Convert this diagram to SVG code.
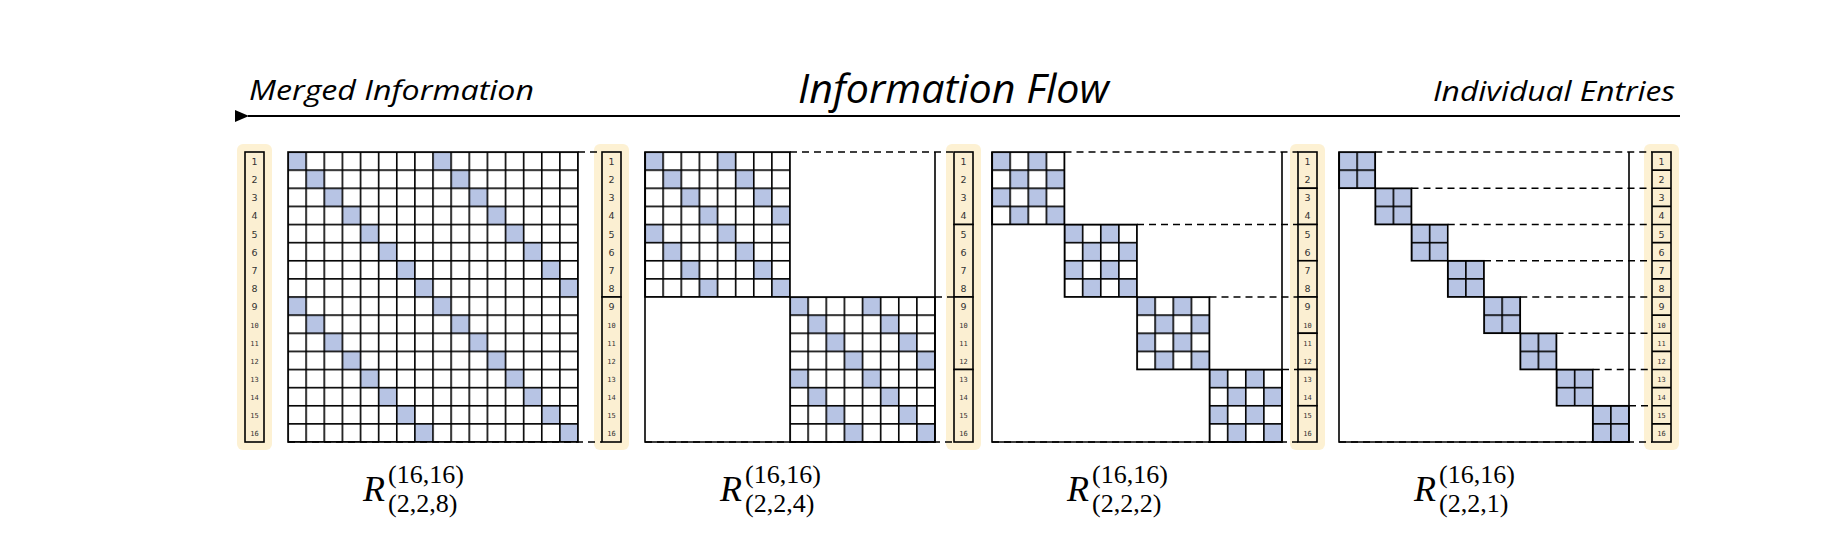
<svg xmlns="http://www.w3.org/2000/svg" xmlns:xlink="http://www.w3.org/1999/xlink" width="1830" height="540" viewBox="0 0 1830 540">
<style>
.hd{font-family:"Open Sans","Liberation Sans",sans-serif;font-style:italic;fill:#000}
.frame{fill:none;stroke:#000;stroke-width:1.6}
.dash{fill:none;stroke:#000;stroke-width:1.6;stroke-dasharray:7 5}
.blk{fill:url(#grid);stroke:#000;stroke-width:1.6}
.blue{fill:#b7c4e4}
.ybg{fill:#fdf1d3}
.ibox{fill:#fbefd2;stroke:#000;stroke-width:1.6}
.num{font-family:"DejaVu Sans",sans-serif;font-size:9.5px;fill:#333;text-anchor:middle}
.nums{font-family:"DejaVu Sans Mono",monospace;font-size:7px;fill:#333;text-anchor:middle}
.lbl{font-family:"Liberation Serif","DejaVu Serif",serif;fill:#000}
</style>
<defs>
<pattern id="grid" patternUnits="userSpaceOnUse" x="-0.8" y="-0.8" width="18.125" height="18.125">
<rect x="0" y="0" width="1.6" height="18.125" fill="#000"/>
<rect x="0" y="0" width="18.125" height="1.6" fill="#000"/>
</pattern>
<marker id="ah" markerWidth="14" markerHeight="12" refX="1" refY="6" orient="auto" markerUnits="userSpaceOnUse">
<path d="M14 0L0 6L14 12z" fill="#000"/>
</marker>
<g id="d2"><rect class="blue" x="0" y="0" width="18.125" height="18.125"/><rect class="blue" x="18.125" y="18.125" width="18.125" height="18.125"/></g>
<g id="d4"><use xlink:href="#d2"/><use xlink:href="#d2" x="36.25" y="36.25"/></g>
<g id="d8"><use xlink:href="#d4"/><use xlink:href="#d4" x="72.5" y="72.5"/></g>
<g id="n16">
<text class="num" x="9.5" y="13">1</text><text class="num" x="9.5" y="31.1">2</text><text class="num" x="9.5" y="49.2">3</text><text class="num" x="9.5" y="67.4">4</text><text class="num" x="9.5" y="85.5">5</text><text class="num" x="9.5" y="103.6">6</text><text class="num" x="9.5" y="121.7">7</text><text class="num" x="9.5" y="139.9">8</text><text class="num" x="9.5" y="158">9</text><text class="nums" x="9.5" y="175.5">10</text><text class="nums" x="9.5" y="193.6">11</text><text class="nums" x="9.5" y="211.7">12</text><text class="nums" x="9.5" y="229.8">13</text><text class="nums" x="9.5" y="248">14</text><text class="nums" x="9.5" y="266.1">15</text><text class="nums" x="9.5" y="284.2">16</text>
</g>
</defs>
<rect width="1830" height="540" fill="#fff"/>
<g id="header">
<text class="hd" x="249" y="100" font-size="28" textLength="285" lengthAdjust="spacingAndGlyphs">Merged Information</text>
<text class="hd" x="798" y="103" font-size="40" textLength="311" lengthAdjust="spacingAndGlyphs">Information Flow</text>
<text class="hd" x="1433" y="101" font-size="28" textLength="242" lengthAdjust="spacingAndGlyphs">Individual Entries</text>
</g>
<g id="connectors">
<line x1="1680" y1="116" x2="248" y2="116" stroke="#000" stroke-width="2.2" marker-end="url(#ah)"/>
</g>
<g id="index0" transform="translate(245,152)">
<rect class="ybg" x="-8" y="-8" width="35" height="306" rx="6"/>
<rect class="ibox" x="0" y="0" width="19" height="290"/>
<use xlink:href="#n16"/>
</g>
<g id="index1" transform="translate(602,152)">
<rect class="ybg" x="-8" y="-8" width="35" height="306" rx="6"/>
<rect class="ibox" x="0" y="0" width="19" height="145"/><rect class="ibox" x="0" y="145" width="19" height="145"/>
<use xlink:href="#n16"/>
</g>
<g id="index2" transform="translate(954,152)">
<rect class="ybg" x="-8" y="-8" width="35" height="306" rx="6"/>
<rect class="ibox" x="0" y="0" width="19" height="72.5"/><rect class="ibox" x="0" y="72.5" width="19" height="72.5"/><rect class="ibox" x="0" y="145" width="19" height="72.5"/><rect class="ibox" x="0" y="217.5" width="19" height="72.5"/>
<use xlink:href="#n16"/>
</g>
<g id="index3" transform="translate(1298,152)">
<rect class="ybg" x="-8" y="-8" width="35" height="306" rx="6"/>
<rect class="ibox" x="0" y="0" width="19" height="36.25"/><rect class="ibox" x="0" y="36.25" width="19" height="36.25"/><rect class="ibox" x="0" y="72.5" width="19" height="36.25"/><rect class="ibox" x="0" y="108.75" width="19" height="36.25"/><rect class="ibox" x="0" y="145" width="19" height="36.25"/><rect class="ibox" x="0" y="181.25" width="19" height="36.25"/><rect class="ibox" x="0" y="217.5" width="19" height="36.25"/><rect class="ibox" x="0" y="253.75" width="19" height="36.25"/>
<use xlink:href="#n16"/>
</g>
<g id="index4" transform="translate(1652,152)">
<rect class="ybg" x="-8" y="-8" width="35" height="306" rx="6"/>
<rect class="ibox" x="0" y="0" width="19" height="290"/>
<path d="M0 18.125h19M0 36.25h19M0 54.375h19M0 72.5h19M0 90.625h19M0 108.75h19M0 126.875h19M0 145h19M0 163.125h19M0 181.25h19M0 199.375h19M0 217.5h19M0 235.625h19M0 253.75h19M0 271.875h19" stroke="#000" stroke-width="1.6"/>
<use xlink:href="#n16"/>
</g>
<g id="matrix1" transform="translate(288,152)">
<use xlink:href="#d8"/><use xlink:href="#d8" x="145"/><use xlink:href="#d8" y="145"/><use xlink:href="#d8" x="145" y="145"/>
<rect class="blk" x="0" y="0" width="290" height="290"/>
<path class="dash" d="M290 0H314M0 290H314"/>
</g>
<g id="matrix2" transform="translate(645,152)">
<use xlink:href="#d4"/><use xlink:href="#d4" x="72.5"/><use xlink:href="#d4" y="72.5"/><use xlink:href="#d4" x="72.5" y="72.5"/>
<g transform="translate(145,145)"><use xlink:href="#d4"/><use xlink:href="#d4" x="72.5"/><use xlink:href="#d4" y="72.5"/><use xlink:href="#d4" x="72.5" y="72.5"/></g>
<rect class="blk" x="0" y="0" width="145" height="145"/><rect class="blk" x="145" y="145" width="145" height="145"/>
<path class="frame" d="M0 0V290H290V0"/>
<path class="dash" d="M145 0H309M290 145H309M0 290H309"/>
</g>
<g id="matrix3" transform="translate(992,152)">
<g id="b3"><use xlink:href="#d2"/><use xlink:href="#d2" x="36.25"/><use xlink:href="#d2" y="36.25"/><use xlink:href="#d2" x="36.25" y="36.25"/></g>
<use xlink:href="#b3" x="72.5" y="72.5"/><use xlink:href="#b3" x="145" y="145"/><use xlink:href="#b3" x="217.5" y="217.5"/>
<rect class="blk" x="0" y="0" width="72.5" height="72.5"/><rect class="blk" x="72.5" y="72.5" width="72.5" height="72.5"/><rect class="blk" x="145" y="145" width="72.5" height="72.5"/><rect class="blk" x="217.5" y="217.5" width="72.5" height="72.5"/>
<path class="frame" d="M0 0V290H290V0"/>
<path class="dash" d="M72.5 0H306M145 72.5H306M217.5 145H306M290 217.5H306M0 290H306"/>
</g>
<g id="matrix4" transform="translate(1339,152)">
<rect class="blue" x="0" y="0" width="36.25" height="36.25"/><rect class="blue" x="36.25" y="36.25" width="36.25" height="36.25"/><rect class="blue" x="72.5" y="72.5" width="36.25" height="36.25"/><rect class="blue" x="108.75" y="108.75" width="36.25" height="36.25"/><rect class="blue" x="145" y="145" width="36.25" height="36.25"/><rect class="blue" x="181.25" y="181.25" width="36.25" height="36.25"/><rect class="blue" x="217.5" y="217.5" width="36.25" height="36.25"/><rect class="blue" x="253.75" y="253.75" width="36.25" height="36.25"/>
<rect class="blk" x="0" y="0" width="36.25" height="36.25"/><rect class="blk" x="36.25" y="36.25" width="36.25" height="36.25"/><rect class="blk" x="72.5" y="72.5" width="36.25" height="36.25"/><rect class="blk" x="108.75" y="108.75" width="36.25" height="36.25"/><rect class="blk" x="145" y="145" width="36.25" height="36.25"/><rect class="blk" x="181.25" y="181.25" width="36.25" height="36.25"/><rect class="blk" x="217.5" y="217.5" width="36.25" height="36.25"/><rect class="blk" x="253.75" y="253.75" width="36.25" height="36.25"/>
<path class="frame" d="M0 0V290H290V0"/>
<path class="dash" d="M36.25 0H313M72.5 36.25H313M108.75 72.5H313M145 108.75H313M181.25 145H313M217.5 181.25H313M253.75 217.5H313M290 253.75H313M0 290H313"/>
</g>
<g id="labels">
<g transform="translate(433,0)"><text class="lbl" x="-70" y="501" font-size="36" font-style="italic">R</text><text class="lbl" x="-45" y="483" font-size="26">(16,16)</text><text class="lbl" x="-45" y="512" font-size="26">(2,2,8)</text></g>
<g transform="translate(790,0)"><text class="lbl" x="-70" y="501" font-size="36" font-style="italic">R</text><text class="lbl" x="-45" y="483" font-size="26">(16,16)</text><text class="lbl" x="-45" y="512" font-size="26">(2,2,4)</text></g>
<g transform="translate(1137,0)"><text class="lbl" x="-70" y="501" font-size="36" font-style="italic">R</text><text class="lbl" x="-45" y="483" font-size="26">(16,16)</text><text class="lbl" x="-45" y="512" font-size="26">(2,2,2)</text></g>
<g transform="translate(1484,0)"><text class="lbl" x="-70" y="501" font-size="36" font-style="italic">R</text><text class="lbl" x="-45" y="483" font-size="26">(16,16)</text><text class="lbl" x="-45" y="512" font-size="26">(2,2,1)</text></g>
</g>
</svg>
